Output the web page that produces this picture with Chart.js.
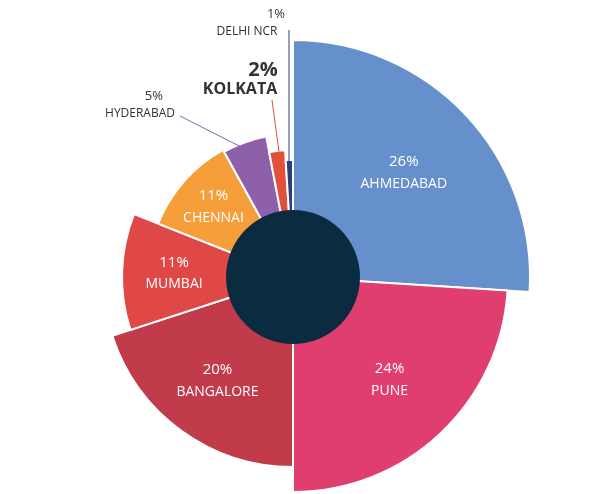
<!DOCTYPE html>
<html>
<head>
<meta charset="utf-8">
<script src="https://cdn.jsdelivr.net/npm/chart.js@4"></script>
<style>
  html, body { margin: 0; padding: 0; background: #fff; }
  #wrap { width: 600px; height: 494px; }
</style>
</head>
<body>
<div id="wrap"><canvas id="mainCanvas" width="600" height="494"></canvas></div>
<script>
const cities = ["AHMEDABAD", "PUNE", "BANGALORE", "MUMBAI", "CHENNAI", "HYDERABAD", "KOLKATA", "DELHI NCR"];
const shares = [26, 24, 20, 11, 11, 5, 2, 1];
// outer radius of each slice, in pixels
const radii = [237, 215, 190, 171, 145, 143, 127, 117];
const colours = ["#6690cc", "#e03e6e", "#c23b4b", "#e04848", "#f59e3a", "#8e60aa", "#e0503a", "#2c3e7a"];

const cx = 293, cy = 277, hole = 67;
const font = "'Open Sans', sans-serif";

// small slices get their label outside with a leader line
const outside = {
    5: {pct: [163, 96], name: [175, 114], from: [180, 116], to: [247, 150], size: 13, bold: false, align: "right"},
    6: {pct: [263, 70], name: [240, 89], from: [272, 100], to: [279, 152], size: 20, bold: true, align: "center"},
    7: {pct: [276, 14], name: [247, 32], from: [289, 30], to: [289, 162], size: 13, bold: false, align: "center"}
};

const shapePlugin = {
    id: 'shape',
    beforeDatasetsDraw(chart) {
        chart.getDatasetMeta(0).data.forEach((el, i) => {
            el.x = cx;
            el.y = cy;
            el.innerRadius = 0;
            el.outerRadius = radii[i];
        });
    },
    afterDatasetsDraw(chart) {
        const ctx = chart.ctx;
        ctx.save();
        ctx.fillStyle = "#0b2c40";
        ctx.beginPath();
        ctx.arc(cx, cy, hole, 0, Math.PI * 2);
        ctx.fill();

        ctx.textBaseline = "middle";
        chart.getDatasetMeta(0).data.forEach((el, i) => {
            const o = outside[i];
            if (o) {
                ctx.strokeStyle = colours[i];
                ctx.lineWidth = 1;
                ctx.beginPath();
                ctx.moveTo(o.from[0], o.from[1]);
                ctx.lineTo(o.to[0], o.to[1]);
                ctx.stroke();
                ctx.fillStyle = "#333";
                ctx.textAlign = o.align;
                ctx.font = (o.bold ? "bold " : "") + o.size + "px " + font;
                ctx.fillText(shares[i] + "%", o.pct[0], o.pct[1]);
                ctx.font = (o.bold ? "bold " : "") + (o.bold ? 16 : 12) + "px " + font;
                ctx.fillText(cities[i], o.name[0], o.name[1]);
                return;
            }
            const mid = (el.startAngle + el.endAngle) / 2;
            const d = (radii[i] + hole) / 2;
            const x = cx + Math.cos(mid) * d;
            const y = cy + Math.sin(mid) * d;
            ctx.fillStyle = "#fff";
            ctx.textAlign = "center";
            ctx.font = "15px " + font;
            ctx.fillText(shares[i] + "%", x, y - 11);
            ctx.font = "14px " + font;
            ctx.fillText(cities[i], x, y + 11);
        });
        ctx.restore();
    }
};

const chart = new Chart(document.getElementById('mainCanvas'), {
    type: 'doughnut',
    data: {
        labels: cities,
        datasets: [{
            data: shares,
            backgroundColor: colours,
            borderColor: "#fff",
            borderWidth: 2
        }]
    },
    options: {
        responsive: false,
        animation: false,
        cutout: 0,
        plugins: { legend: { display: false }, tooltip: { enabled: false } }
    },
    plugins: [shapePlugin]
});
</script>
</body>
</html>
